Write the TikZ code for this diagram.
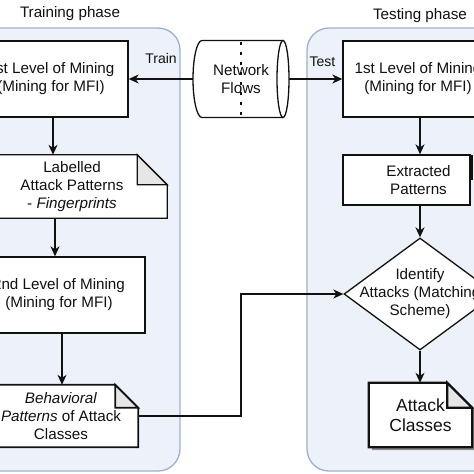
\documentclass[tikz,border=0pt]{standalone}
\usepackage{fontspec}
\setmainfont{Liberation Sans}
\usetikzlibrary{arrows.meta,shapes.geometric,calc}
\definecolor{phasefill}{HTML}{EDF2FA}
\definecolor{phaseline}{HTML}{9DB1CF}
\definecolor{foldgray}{HTML}{E6E6E6}
\definecolor{inkc}{HTML}{111111}
\definecolor{shadowc}{HTML}{8C8C8C}
\pgfdeclarelayer{bglayer}
\pgfdeclarelayer{notelayer}
\pgfsetlayers{bglayer,notelayer,main}
\newcommand\notepath[3]{%
  \draw[line width=#3, fill=white, draw=inkc, line join=miter]
    (#1.north west) -- ([xshift=-#2pt]#1.north east) -- ([yshift=-#2pt]#1.north east)
    -- (#1.south east) -- (#1.south west) -- cycle;
  \draw[line width=#3, fill=foldgray, draw=inkc, line join=miter]
    ([xshift=-#2pt]#1.north east) -- ([xshift=-#2pt,yshift=-#2pt]#1.north east)
    -- ([yshift=-#2pt]#1.north east) -- cycle;}
\newcommand\noteshade[2]{%
  \fill[shadowc] ([xshift=3pt,yshift=-3pt]#1.north west)
    -- ([xshift=3pt-#2pt,yshift=-3pt]#1.north east)
    -- ([xshift=3pt,yshift=-3pt-#2pt]#1.north east)
    -- ([xshift=3pt,yshift=-3pt]#1.south east)
    -- ([xshift=3pt,yshift=-3pt]#1.south west) -- cycle;}
\begin{document}
\begin{tikzpicture}[x=1pt,y=-1pt,
  txt/.style={font=\fontsize{15.2}{18}\selectfont, align=center, text=inkc},
  boxn/.style={txt, draw=inkc, line width=1.3pt, fill=white, rectangle, inner sep=0pt},
  notebox/.style={txt, rectangle, inner sep=0pt},
  arr/.style={draw=inkc, line width=1.3pt, -{Stealth[length=10pt,width=9pt,inset=3pt]}},
  lbl/.style={font=\fontsize{14}{16}\selectfont, text=inkc},
  phase/.style={fill=phasefill, draw=phaseline, line width=1.3pt, rounded corners=22pt},
]
\useasboundingbox (0,0) rectangle (474,474);
\clip (0,0) rectangle (474,474);
\begin{pgfonlayer}{bglayer}
  \clip (0,0) rectangle (474,474);
  \fill[white] (0,0) rectangle (474,474);
  \draw[phase] (-60,28) rectangle (180,471);
  \draw[phase] (307,28) rectangle (540,471);
\end{pgfonlayer}

% phase labels
\node[txt] (trainp) at (70,14) {Training phase};
\node[txt] (testp) at (420,16) {Testing phase};

% training column
\node[boxn, minimum width=154, minimum height=76] (L1) at (51,79) {1st Level of Mining\\(Mining for MFI)};
\node[notebox, minimum width=190, minimum height=63] (L2) at (72,186.5) {Labelled\\Attack Patterns\\- \textit{Fingerprints}};
\node[boxn, minimum width=172, minimum height=76] (L3) at (59,295) {2nd Level of Mining\\(Mining for MFI)};
\node[notebox, minimum width=154, minimum height=62] (L4) at (61,416) {\textit{Behavioral}\\\textit{Patterns} of Attack\\Classes};

% network flows
\node[txt, minimum width=96, minimum height=77, inner sep=0pt] (F) at (241,79) {Network\\Flows};

% testing column
\node[boxn, minimum width=150, minimum height=76] (R1) at (418,79) {1st Level of Mining\\(Mining for MFI)};
\node[boxn, minimum width=127, minimum height=50, label={[txt,xshift=12pt]center:{Extracted\\Patterns}}] (R2) at (406.5,180) {};
\node[diamond, draw=inkc, line width=1.3pt, fill=white, minimum width=152, minimum height=112, inner sep=0pt,
      label={[txt]center:{Identify\\Attacks (Matching\\Scheme)}}] (D) at (420,294) {};
\node[notebox, minimum width=103, minimum height=64, font=\fontsize{17.5}{20}\selectfont] (R3) at (420.5,415) {Attack\\Classes};

\begin{pgfonlayer}{notelayer}
  \clip (0,0) rectangle (474,474);
  \notepath{L2}{30}{1.3pt}
  \notepath{L4}{23}{1.8pt}
  \noteshade{R3}{25}
  \notepath{R3}{25}{2.2pt}
  % cylinder
  \draw[line width=1.3pt, draw=inkc, fill=white] (202,117.5) arc[start angle=90, end angle=270, x radius=9, y radius=38.5]
     -- (283,40.5) -- (283,117.5) -- cycle;
  \draw[line width=1.3pt, draw=inkc, fill=white] (283,79) ellipse [x radius=6, y radius=38.5];
  \draw[inkc, line width=2.2pt, dash pattern=on 2.2pt off 7.8pt] ([yshift=-2pt]F.north) -- (F.south);
\end{pgfonlayer}

% fragment at right edge
\draw[inkc, line width=2.5pt] (472,155) -- (472,180);

% connectors
\draw[arr] (F.west) -- (L1.east);
\node[lbl] (trainl) at (161,58) {Train};
\draw[arr] (F.east) -- (R1.west);
\node[lbl] (testl) at (322.5,62) {Test};

\draw[arr] ([xshift=2pt]L1.south) -- ([xshift=2pt]L1.south |- L2.north);
\draw[arr] ([xshift=-17pt]L2.south) -- ([xshift=-17pt]L2.south |- L3.north);
\draw[arr] ([xshift=3pt]L3.south) -- ([xshift=3pt]L3.south |- L4.north);

\draw[arr] ([xshift=2pt]R1.south) -- ([xshift=2pt]R1.south |- R2.north);
\draw[arr] (D.north |- R2.south) -- (D.north);
\draw[arr] (D.south) -- (D.south |- R3.north);

\coordinate (J) at (241,416);
\draw[arr] (L4.east) -- (J) |- (D.west);
\end{tikzpicture}
\end{document}
